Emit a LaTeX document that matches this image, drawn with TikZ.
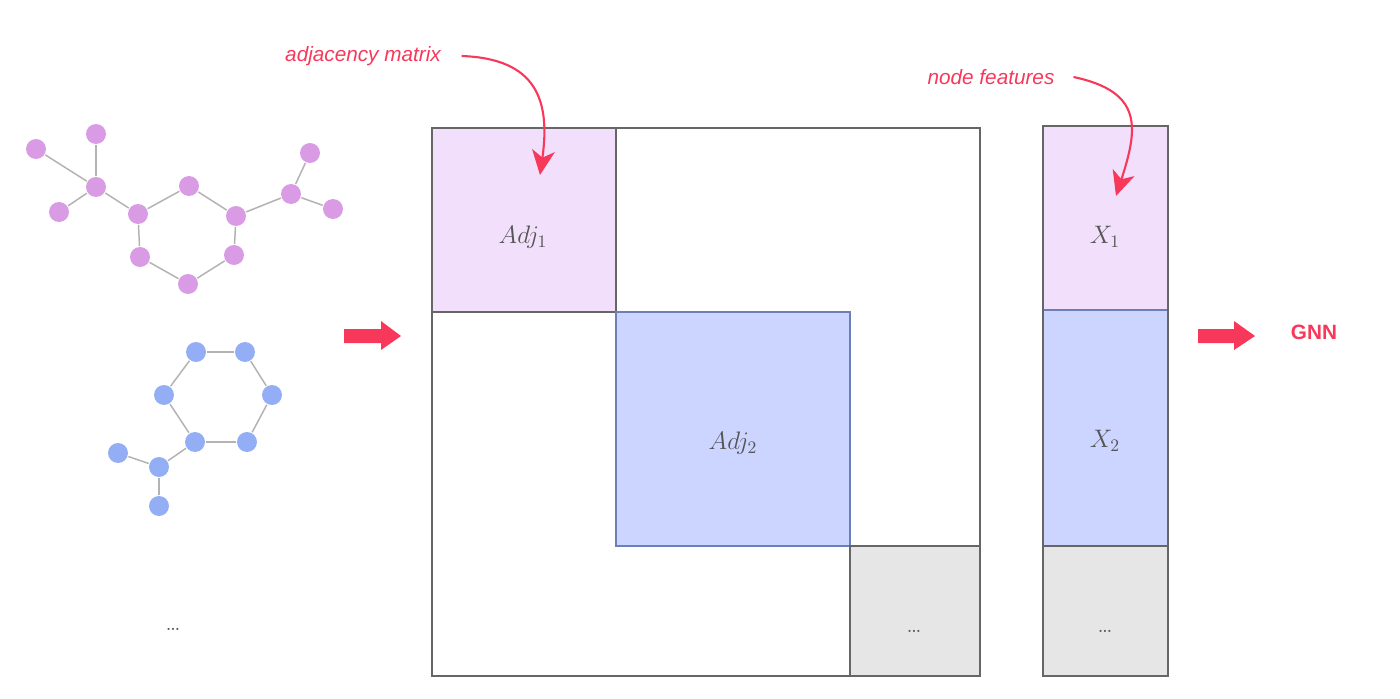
\documentclass[tikz,border=0pt]{standalone}
\usepackage{fontspec}
\setsansfont{Liberation Sans}
\usetikzlibrary{arrows.meta}
\definecolor{molpurple}{HTML}{D99BE4}
\definecolor{molblue}{HTML}{93AEF4}
\definecolor{bondgray}{HTML}{B3B3B3}
\definecolor{lilac}{HTML}{F2DFFC}
\definecolor{paleblue}{HTML}{CCD5FF}
\definecolor{blueline}{HTML}{6C7FB8}
\definecolor{boxgray}{HTML}{E6E6E6}
\definecolor{framegray}{HTML}{666666}
\definecolor{hotred}{HTML}{F8385A}
\definecolor{labelgray}{HTML}{555555}

\begin{document}
\begin{tikzpicture}[x=0.02cm,y=0.02cm,line width=1.1pt,
  pnode/.style={circle,fill=molpurple,minimum size=0.4cm,inner sep=0pt},
  bnode/.style={circle,fill=molblue,minimum size=0.4cm,inner sep=0pt},
  bond/.style={draw=bondgray,line width=0.85pt},
  mlabel/.style={text=labelgray,font=\fontsize{14.5}{16}\selectfont},
  dotlabel/.style={text=labelgray,font=\fontsize{15}{17}\selectfont},
  note/.style={text=hotred,font=\sffamily\itshape\fontsize{11.8}{14}\selectfont},
  pointer/.style={color=hotred,line width=1.2pt,-{Stealth[length=14pt,width=13pt,inset=4pt]}},
  bigarrow/.style={fill=hotred},
  frame/.style={draw=framegray,line width=1.15pt}]
\useasboundingbox (0,0) rectangle (1400,698);

  \node[pnode] (a1) at (36,549) {};
  \node[pnode] (a2) at (96,564) {};
  \node[pnode] (a3) at (96,511) {};
  \node[pnode] (a4) at (59,486) {};
  \node[pnode] (r1) at (138,484) {};
  \node[pnode] (r2) at (189,512) {};
  \node[pnode] (r3) at (236,482) {};
  \node[pnode] (r4) at (234,443) {};
  \node[pnode] (r5) at (188,414) {};
  \node[pnode] (r6) at (140,441) {};
  \node[pnode] (b1) at (291,504) {};
  \node[pnode] (b2) at (310,545) {};
  \node[pnode] (b3) at (333,489) {};

  \node[bnode] (h1) at (196,346) {};
  \node[bnode] (h2) at (245,346) {};
  \node[bnode] (h3) at (272,303) {};
  \node[bnode] (h4) at (247,256) {};
  \node[bnode] (h5) at (195,256) {};
  \node[bnode] (h6) at (164,303) {};
  \node[bnode] (c1) at (159,231) {};
  \node[bnode] (c2) at (118,245) {};
  \node[bnode] (c3) at (159,192) {};

  \node[dotlabel] (moredots) at (173,69) {\dots};

\path[bond]
  (a1) edge (a3)
  (a2) edge (a3)
  (a4) edge (a3)
  (a3) edge (r1)
  (r1) edge (r2)
  (r2) edge (r3)
  (r3) edge (r4)
  (r4) edge (r5)
  (r5) edge (r6)
  (r6) edge (r1)
  (r3) edge (b1)
  (b1) edge (b2)
  (b1) edge (b3)
  (h1) edge (h2)
  (h2) edge (h3)
  (h3) edge (h4)
  (h4) edge (h5)
  (h5) edge (h6)
  (h6) edge (h1)
  (h5) edge (c1)
  (c1) edge (c2)
  (c1) edge (c3)
;

  \fill[bigarrow] (344,355) -- (381,355) -- (381,348) -- (401,362) -- (381,377) -- (381,369) -- (344,369) -- cycle;
  \fill[bigarrow] (1198,355) -- (1234,355) -- (1234,348) -- (1255,362) -- (1234,377) -- (1234,369) -- (1198,369) -- cycle;

  \draw[frame] (432,22) rectangle (980,570);
  \filldraw[frame,fill=lilac] (432,386) rectangle (616,570);
  \filldraw[draw=blueline,fill=paleblue] (616,152) rectangle (850,386);
  \filldraw[frame,fill=boxgray] (850,22) rectangle (980,152);

  \filldraw[frame,fill=lilac] (1043,388) rectangle (1168,572);
  \filldraw[draw=blueline,fill=paleblue] (1043,152) rectangle (1168,388);
  \filldraw[frame,fill=boxgray] (1043,22) rectangle (1168,152);
  \draw[frame] (1043,22) rectangle (1168,572);

  \node[mlabel] (adj1) at (523,461) {$Adj_1$};
  \node[mlabel] (adj2) at (733,255) {$Adj_2$};
  \node[dotlabel] (adjdots) at (914,67) {\dots};
  \node[mlabel] (x1) at (1105,461) {$X_1$};
  \node[mlabel] (x2) at (1105,257) {$X_2$};
  \node[dotlabel] (xdots) at (1105,67) {\dots};

  \node[note] (adjnote) at (363,642) {adjacency matrix};
  \node[note] (featnote) at (991,621) {node features};
  \node[text=hotred,font=\sffamily\bfseries\fontsize{11.8}{14}\selectfont] (gnn) at (1314,366) {GNN};

  \coordinate (adjtip) at (540,523);
  \coordinate (feattip) at (1116,502);

\path[pointer]
  ([xshift=8pt]adjnote.east) edge[out=-2,in=82,looseness=1.35] (adjtip)
  ([xshift=7pt]featnote.east) edge[out=-12,in=72,looseness=1.45] (feattip)
;
\end{tikzpicture}
\end{document}
